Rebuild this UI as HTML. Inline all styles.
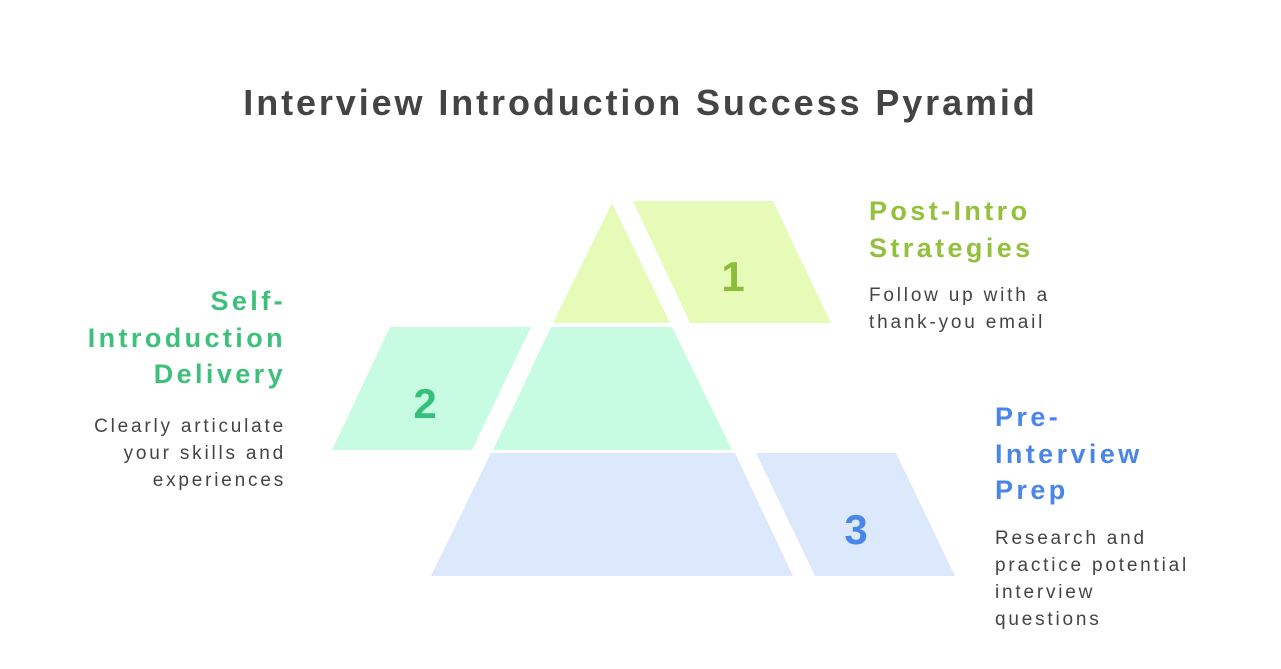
<!DOCTYPE html>
<html><head><meta charset="utf-8"><style>
body{margin:0;width:1281px;height:669px;background:#fff;overflow:hidden;position:relative;font-family:"Liberation Sans",sans-serif}
.t{position:absolute;white-space:nowrap}
.h{font-weight:bold;font-size:27px;line-height:36.5px;letter-spacing:3.4px}
.d{font-size:19px;line-height:27px;color:#444;letter-spacing:2.8px}
</style></head><body>
<svg width="1281" height="669" style="position:absolute;left:0;top:0">
<polygon points="612,203 670,323 553,323" fill="#e6fbb8"/>
<polygon points="633,201 773,201 831,323 690,323" fill="#e6fbb8"/>
<polygon points="551,327 672,327 732,450 493,450" fill="#c7fce3"/>
<polygon points="390,327 531,327 472,450 332,450" fill="#c7fce3"/>
<polygon points="491,453 735,453 793,576 431,576" fill="#dce8fc"/>
<polygon points="756,453 896,453 955,576 815,576" fill="#dce8fc"/>
<g font-family="Liberation Sans" font-weight="bold" font-size="42" text-anchor="middle">
<text x="733" y="291" fill="#8dbb3a">1</text>
<text x="425" y="418" fill="#34c07a">2</text>
<text x="856" y="544" fill="#4a86e8">3</text>
</g>
</svg>
<div class="t" style="left:0;width:1281px;text-align:center;top:82px;font-size:36px;font-weight:bold;color:#444;letter-spacing:2.9px">Interview Introduction Success Pyramid</div>
<div class="t h" style="left:869px;top:193px;color:#94c13d">Post-Intro<br>Strategies</div>
<div class="t d" style="left:869px;top:282px">Follow up with a<br>thank-you email</div>
<div class="t h" style="right:995px;top:283px;text-align:right;color:#3cc07a">Self-<br>Introduction<br>Delivery</div>
<div class="t d" style="right:995px;top:413px;text-align:right">Clearly articulate<br>your skills and<br>experiences</div>
<div class="t h" style="left:995px;top:399px;color:#4a86e8">Pre-<br>Interview<br>Prep</div>
<div class="t d" style="left:995px;top:525px">Research and<br>practice potential<br>interview<br>questions</div>
</body></html>
